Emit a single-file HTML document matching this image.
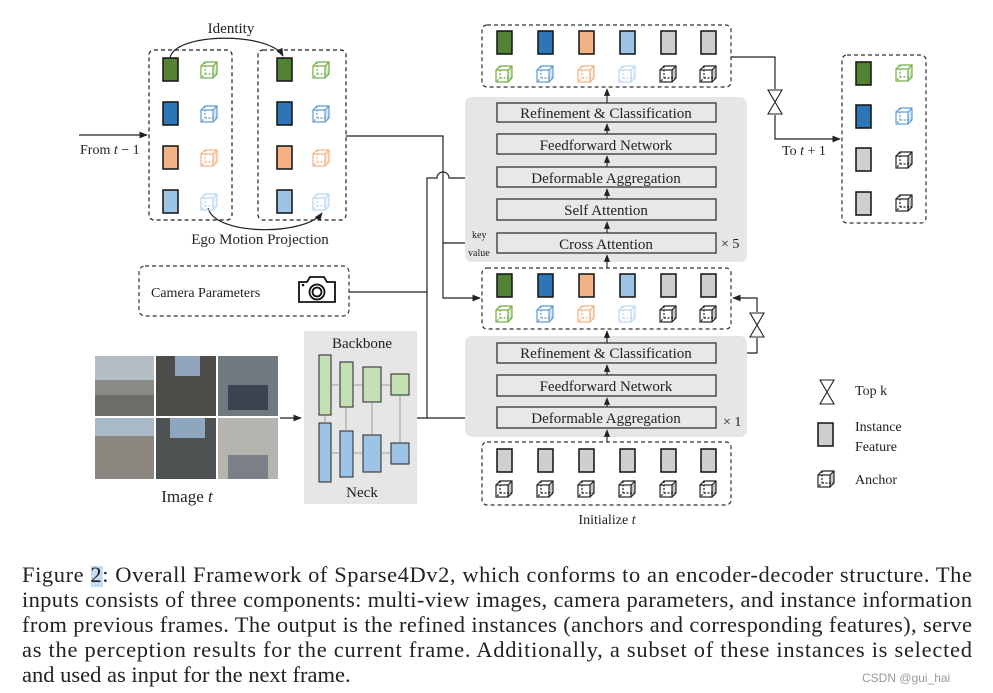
<!DOCTYPE html>
<html><head><meta charset="utf-8"><style>
html,body{margin:0;padding:0;background:#fff;width:993px;height:693px;overflow:hidden}
svg{display:block}
text{font-family:"Liberation Serif",serif;fill:#222}
</style></head><body>
<svg width="993" height="693" viewBox="0 0 993 693" xmlns="http://www.w3.org/2000/svg">
<defs>
<marker id="a" viewBox="0 0 10 10" refX="9" refY="5" markerWidth="7" markerHeight="7" orient="auto"><path d="M0,1 L10,5 L0,9 Z" fill="#222"/></marker>
<symbol id="cube" viewBox="0 0 18 18" overflow="visible">
<g fill="none" stroke="currentColor" stroke-width="1.2">
<rect x="1" y="5" width="12" height="12"/>
<path d="M1,5 L5,1 L17,1 L17,13 L13,17 M13,5 L17,1"/>
<path d="M5,1 L5,13 L1,17 M5,13 L17,13" stroke-dasharray="2,1.5"/>
</g>
<path d="M13,5 L17,1 L17,13 L13,17Z" fill="currentColor" opacity="0.25"/>
</symbol>
<symbol id="hg" viewBox="0 0 16 26" overflow="visible">
<path d="M1,1 L15,1 L8,13 Z M8,13 L1,25 L15,25 Z" fill="#fff" stroke="#222" stroke-width="1.1"/>
</symbol>
</defs>
<g stroke="#222" stroke-width="1.2" fill="none">
<rect x="149" y="50" width="83" height="170" rx="5" stroke-dasharray="4,3"/>
<rect x="258" y="50" width="88" height="170" rx="5" stroke-dasharray="4,3"/>
<path d="M170,58 C175,32 270,32 283,56" marker-end="url(#a)"/>
<path d="M208,208 C215,236 305,236 322,213" marker-end="url(#a)"/>
<path d="M79,135 L147,135" marker-end="url(#a)"/>
<path d="M346,136 L443,136 L443,298 L480,298" marker-end="url(#a)"/>
<path d="M443,243 L495,243" marker-end="url(#a)"/>
<path d="M427,418 L427,178 L437,178 A6,6 0 0 1 449,178 L495,178" marker-end="url(#a)"/>
<path d="M349,292 L427,292"/>
<path d="M417,418 L495,418" marker-end="url(#a)"/>
<path d="M280,418 L301,418" marker-end="url(#a)"/>
<path d="M731,57 L775,57 L775,89"/>
<path d="M775,115 L775,139 L840,139" marker-end="url(#a)"/>
<path d="M716,353 L757,353 L757,338"/>
<path d="M757,312 L757,298 L733,298" marker-end="url(#a)"/>
</g>
<rect x="465" y="97" width="282" height="165" rx="7" fill="#e6e6e6"/>
<rect x="465" y="336" width="282" height="101" rx="7" fill="#e6e6e6"/>
<g stroke="#333" stroke-width="1.3" fill="#e8e8e8">
<rect x="497" y="103" width="219" height="19"/>
<rect x="497" y="134" width="219" height="20"/>
<rect x="497" y="167" width="219" height="20"/>
<rect x="497" y="199" width="219" height="21"/>
<rect x="497" y="233" width="219" height="20"/>
<rect x="497" y="343" width="219" height="20"/>
<rect x="497" y="375" width="219" height="21"/>
<rect x="497" y="407" width="219" height="21"/>
</g>
<g stroke="#222" stroke-width="1.1" fill="none" marker-end="url(#a)">
<path d="M607,268 L607,255"/>
<path d="M607,233 L607,222"/>
<path d="M607,199 L607,189"/>
<path d="M607,167 L607,156"/>
<path d="M607,134 L607,124"/>
<path d="M607,103 L607,89"/>
<path d="M607,343 L607,331"/>
<path d="M607,375 L607,365"/>
<path d="M607,407 L607,398"/>
<path d="M607,442 L607,430"/>
</g>
<g font-size="15" text-anchor="middle">
<text x="606" y="118">Refinement &amp; Classification</text>
<text x="606" y="150">Feedforward Network</text>
<text x="606" y="183">Deformable Aggregation</text>
<text x="606" y="215">Self Attention</text>
<text x="606" y="249">Cross Attention</text>
<text x="606" y="358">Refinement &amp; Classification</text>
<text x="606" y="391">Feedforward Network</text>
<text x="606" y="423">Deformable Aggregation</text>
</g>
<text x="721" y="248" font-size="14">× 5</text>
<text x="723" y="426" font-size="14">× 1</text>
<text x="472" y="238" font-size="10">key</text>
<text x="468" y="256" font-size="10">value</text>
<g fill="none" stroke="#333" stroke-width="1.2" stroke-dasharray="4,3">
<rect x="482" y="25" width="249" height="62" rx="5"/>
<rect x="482" y="268" width="249" height="61" rx="5"/>
<rect x="482" y="442" width="249" height="63" rx="5"/>
<rect x="842" y="55" width="84" height="168" rx="5"/>
</g>
<g stroke="#111" stroke-width="1.5">
<rect x="163" y="58" width="15" height="23" fill="#548235"/>
<rect x="163" y="102" width="15" height="23" fill="#2e75b6"/>
<rect x="163" y="146" width="15" height="23" fill="#f4b183"/>
<rect x="163" y="190" width="15" height="23" fill="#9dc3e6"/>
<rect x="277" y="58" width="15" height="23" fill="#548235"/>
<rect x="277" y="102" width="15" height="23" fill="#2e75b6"/>
<rect x="277" y="146" width="15" height="23" fill="#f4b183"/>
<rect x="277" y="190" width="15" height="23" fill="#9dc3e6"/>
<rect x="497" y="31" width="15" height="23" fill="#548235"/>
<rect x="538" y="31" width="15" height="23" fill="#2e75b6"/>
<rect x="579" y="31" width="15" height="23" fill="#f4b183"/>
<rect x="620" y="31" width="15" height="23" fill="#9dc3e6"/>
<rect x="661" y="31" width="15" height="23" fill="#d0cece"/>
<rect x="701" y="31" width="15" height="23" fill="#d0cece"/>
<rect x="497" y="274" width="15" height="23" fill="#548235"/>
<rect x="538" y="274" width="15" height="23" fill="#2e75b6"/>
<rect x="579" y="274" width="15" height="23" fill="#f4b183"/>
<rect x="620" y="274" width="15" height="23" fill="#9dc3e6"/>
<rect x="661" y="274" width="15" height="23" fill="#d0cece"/>
<rect x="701" y="274" width="15" height="23" fill="#d0cece"/>
<rect x="497" y="449" width="15" height="23" fill="#d0cece"/>
<rect x="538" y="449" width="15" height="23" fill="#d0cece"/>
<rect x="579" y="449" width="15" height="23" fill="#d0cece"/>
<rect x="620" y="449" width="15" height="23" fill="#d0cece"/>
<rect x="661" y="449" width="15" height="23" fill="#d0cece"/>
<rect x="701" y="449" width="15" height="23" fill="#d0cece"/>
<rect x="856" y="62" width="15" height="23" fill="#548235"/>
<rect x="856" y="105" width="15" height="23" fill="#2e75b6"/>
<rect x="856" y="148" width="15" height="23" fill="#d0cece"/>
<rect x="856" y="192" width="15" height="23" fill="#d0cece"/>
<rect x="818" y="423" width="15" height="23" fill="#d0cece"/>
</g>
<g>
<use href="#cube" x="200" y="61" width="18" height="18" style="color:#70ad47"/>
<use href="#cube" x="200" y="105" width="18" height="18" style="color:#5b9bd5"/>
<use href="#cube" x="200" y="149" width="18" height="18" style="color:#f4b183"/>
<use href="#cube" x="200" y="193" width="18" height="18" style="color:#bdd7ee"/>
<use href="#cube" x="312" y="61" width="18" height="18" style="color:#70ad47"/>
<use href="#cube" x="312" y="105" width="18" height="18" style="color:#5b9bd5"/>
<use href="#cube" x="312" y="149" width="18" height="18" style="color:#f4b183"/>
<use href="#cube" x="312" y="193" width="18" height="18" style="color:#bdd7ee"/>
<use href="#cube" x="495" y="65" width="18" height="18" style="color:#70ad47"/>
<use href="#cube" x="536" y="65" width="18" height="18" style="color:#5b9bd5"/>
<use href="#cube" x="577" y="65" width="18" height="18" style="color:#f4b183"/>
<use href="#cube" x="618" y="65" width="18" height="18" style="color:#bdd7ee"/>
<use href="#cube" x="659" y="65" width="18" height="18" style="color:#222"/>
<use href="#cube" x="699" y="65" width="18" height="18" style="color:#222"/>
<use href="#cube" x="495" y="305" width="18" height="18" style="color:#70ad47"/>
<use href="#cube" x="536" y="305" width="18" height="18" style="color:#5b9bd5"/>
<use href="#cube" x="577" y="305" width="18" height="18" style="color:#f4b183"/>
<use href="#cube" x="618" y="305" width="18" height="18" style="color:#bdd7ee"/>
<use href="#cube" x="659" y="305" width="18" height="18" style="color:#222"/>
<use href="#cube" x="699" y="305" width="18" height="18" style="color:#222"/>
<use href="#cube" x="495" y="480" width="18" height="18" style="color:#222"/>
<use href="#cube" x="536" y="480" width="18" height="18" style="color:#222"/>
<use href="#cube" x="577" y="480" width="18" height="18" style="color:#222"/>
<use href="#cube" x="618" y="480" width="18" height="18" style="color:#222"/>
<use href="#cube" x="659" y="480" width="18" height="18" style="color:#222"/>
<use href="#cube" x="699" y="480" width="18" height="18" style="color:#222"/>
<use href="#cube" x="895" y="64" width="18" height="18" style="color:#70ad47"/>
<use href="#cube" x="895" y="107" width="18" height="18" style="color:#5b9bd5"/>
<use href="#cube" x="895" y="151" width="18" height="18" style="color:#222"/>
<use href="#cube" x="895" y="194" width="18" height="18" style="color:#222"/>
<use href="#cube" x="817" y="470" width="18" height="18" style="color:#222"/>
<use href="#hg" x="767" y="89" width="16" height="26"/>
<use href="#hg" x="749" y="312" width="16" height="26"/>
<use href="#hg" x="819" y="379" width="16" height="26"/>
</g>
<text x="231" y="33" font-size="15" text-anchor="middle">Identity</text>
<text x="260" y="244" font-size="15" text-anchor="middle">Ego Motion Projection</text>
<text x="80" y="154" font-size="14">From <tspan font-style="italic">t</tspan> − 1</text>
<text x="782" y="155" font-size="14">To <tspan font-style="italic">t</tspan> + 1</text>
<text x="607" y="524" font-size="14" text-anchor="middle">Initialize <tspan font-style="italic">t</tspan></text>
<text x="855" y="395" font-size="14">Top k</text>
<text x="855" y="431" font-size="14">Instance</text>
<text x="855" y="451" font-size="14">Feature</text>
<text x="855" y="484" font-size="14">Anchor</text>
<rect x="139" y="266" width="210" height="50" rx="6" fill="none" stroke="#333" stroke-width="1.2" stroke-dasharray="4,3"/>
<text x="151" y="297" font-size="14">Camera Parameters</text>
<g fill="none" stroke="#111" stroke-width="1.8">
<path d="M299,282 L307,282 L310,277 L324,277 L327,282 L335,282 L335,302 L299,302 Z"/>
<circle cx="317" cy="292" r="7.5"/><circle cx="317" cy="292" r="4.5"/>
</g>
<circle cx="303" cy="285" r="1.3" fill="#111"/>
<g>
<rect x="95" y="356" width="59" height="60" fill="#8a8a86"/>
<rect x="95" y="356" width="59" height="24" fill="#b4bcc4"/>
<rect x="95" y="395" width="59" height="21" fill="#6d6c68"/>
<rect x="156" y="356" width="60" height="60" fill="#4e4c48"/>
<rect x="175" y="356" width="25" height="20" fill="#8fa6bd"/>
<rect x="218" y="356" width="60" height="60" fill="#6f7a80"/>
<rect x="228" y="385" width="40" height="25" fill="#3d4350"/>
<rect x="95" y="418" width="59" height="61" fill="#8b8680"/>
<rect x="95" y="418" width="59" height="18" fill="#aab9c7"/>
<rect x="156" y="418" width="60" height="61" fill="#4e5252"/>
<rect x="170" y="418" width="35" height="20" fill="#8ea7bf"/>
<rect x="218" y="418" width="60" height="61" fill="#b5b3ad"/>
<rect x="228" y="455" width="40" height="24" fill="#7a7f88"/>
</g>
<text x="187" y="502" font-size="17" text-anchor="middle">Image <tspan font-style="italic">t</tspan></text>
<rect x="304" y="331" width="113" height="173" fill="#e6e6e6"/>
<text x="362" y="348" font-size="15" text-anchor="middle">Backbone</text>
<text x="362" y="497" font-size="15" text-anchor="middle">Neck</text>
<g stroke="#333" stroke-width="1.1">
<rect x="319" y="355" width="12" height="60" fill="#c5e0b4"/>
<rect x="340" y="362" width="13" height="45" fill="#c5e0b4"/>
<rect x="363" y="367" width="18" height="35" fill="#c5e0b4"/>
<rect x="391" y="374" width="18" height="21" fill="#c5e0b4"/>
<rect x="319" y="423" width="12" height="59" fill="#9dc3e6"/>
<rect x="340" y="431" width="13" height="46" fill="#9dc3e6"/>
<rect x="363" y="435" width="18" height="37" fill="#9dc3e6"/>
<rect x="391" y="443" width="18" height="21" fill="#9dc3e6"/>
</g>
<g stroke="#888" stroke-width="0.8" fill="none">
<path d="M331,385 L340,385 M353,385 L363,385 M381,385 L391,385 M325,415 L325,423 M346,407 L346,431 M372,402 L372,435 M400,395 L400,443 M391,453 L381,453 M363,453 L353,453 M340,453 L331,453"/>
</g>
<rect x="91" y="566" width="12" height="21" fill="#c6dcf2"/>
<g font-size="22.5">
<text x="22" y="582" textLength="950" lengthAdjust="spacing">Figure 2: Overall Framework of Sparse4Dv2, which conforms to an encoder-decoder structure. The</text>
<text x="22" y="607" textLength="950" lengthAdjust="spacing">inputs consists of three components: multi-view images, camera parameters, and instance information</text>
<text x="22" y="632" textLength="950" lengthAdjust="spacing">from previous frames. The output is the refined instances (anchors and corresponding features), serve</text>
<text x="22" y="657" textLength="950" lengthAdjust="spacing">as the perception results for the current frame. Additionally, a subset of these instances is selected</text>
<text x="22" y="682">and used as input for the next frame.</text>
</g>
<text x="862" y="682" font-size="12" style="font-family:'Liberation Sans',sans-serif;fill:#999">CSDN @gui_hai</text>
</svg>
</body></html>
